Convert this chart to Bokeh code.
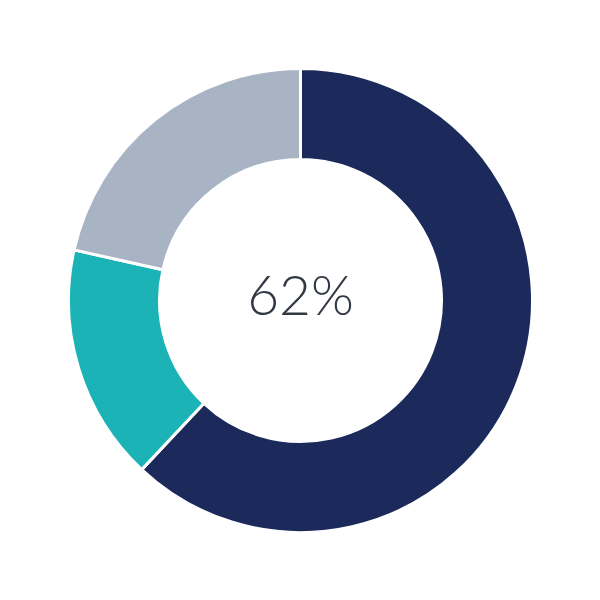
import numpy as np
from bokeh.plotting import figure
from bokeh.models import ColumnDataSource
from bokeh.core.properties import value
from bokeh.embed import file_html
from bokeh.resources import INLINE

categories = ["A", "B", "C"]
shares = [62, 16.5, 21.5]
colors = ["#1b2a5b", "#1bb3b6", "#a8b3c3"]
center_label = "62%"

vals = np.array(shares, dtype=float)
frac = vals / vals.sum()
cum_end = np.cumsum(frac)
cum_start = cum_end - frac
start = np.pi / 2 - 2 * np.pi * cum_start
end = np.pi / 2 - 2 * np.pi * cum_end

src = ColumnDataSource(dict(cat=categories, start=start, end=end, color=colors))

p = figure(width=584, height=584, x_range=(-300, 284), y_range=(-284, 300),
           output_backend="svg", toolbar_location=None, min_border=0)
p.axis.visible = False
p.grid.visible = False
p.outline_line_color = None
p.background_fill_color = "white"
p.border_fill_color = "white"

p.annular_wedge(x=0, y=0, inner_radius=141, outer_radius=232,
                start_angle="start", end_angle="end", direction="clock",
                fill_color="color", line_color="white", line_width=3, source=src)

p.text(x=[0], y=[7], text=[center_label], text_align="center", text_baseline="middle",
       text_font=value("Lato Light, Lato"), text_font_size="55px", text_color="#323944")

open("out.html", "w").write(file_html(p, INLINE))
